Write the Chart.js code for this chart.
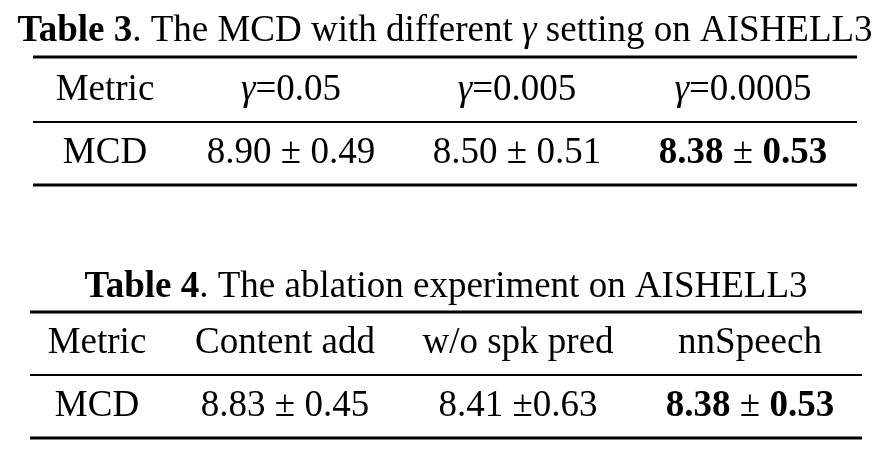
<!DOCTYPE html>
<html>
<head>
<meta charset="utf-8">
<script src="https://cdn.jsdelivr.net/npm/chart.js@4"></script>
<style>
  body { margin:0; background:#fff; }
  #wrap { width:894px; height:472px; }
</style>
</head>
<body>
<div id="wrap"><canvas id="myChart"></canvas></div>
<script>
// table 3
const t3Title = ['Table 3', '. The MCD with different ', 'γ', ' setting on AISHELL3'];
const t3Header = ['Metric', 'γ=0.05', 'γ=0.005', 'γ=0.0005'];
const t3Row = ['MCD', '8.90 ± 0.49', '8.50 ± 0.51', '8.38 ± 0.53'];
// table 4
const t4Title = ['Table 4', '. The ablation experiment on AISHELL3'];
const t4Header = ['Metric', 'Content add', 'w/o spk pred', 'nnSpeech'];
const t4Row = ['MCD', '8.83 ± 0.45', '8.41 ±0.63', '8.38 ± 0.53'];
const bestCol = 3;

const FONT = '"Liberation Serif", "DejaVu Serif", serif';
const SIZE = 37;

// layout (canvas units)
const tables = [
  { title: t3Title, header: t3Header, row: t3Row, cols: [105, 291, 517, 743],
    x0: 33, x1: 857, titleY: 31, rules: [57, 122, 185], headY: 90, rowY: 153 },
  { title: t4Title, header: t4Header, row: t4Row, cols: [97, 285, 518, 750],
    x0: 30, x1: 862, titleY: 287, rules: [312, 375, 438], headY: 343, rowY: 406 }
];

function drawRich(ctx, segs, cx, cy) {
  let total = 0;
  segs.forEach(s => { ctx.font = s.f + ' ' + SIZE + 'px ' + FONT; s.w = ctx.measureText(s.t).width; total += s.w; });
  let x = cx - total / 2;
  segs.forEach(s => { ctx.font = s.f + ' ' + SIZE + 'px ' + FONT; ctx.fillText(s.t, x, cy); x += s.w; });
}

function cellSegs(text, col, header) {
  if (header && text.startsWith('γ')) return [{t:'γ', f:'italic'}, {t:text.slice(1), f:'normal'}];
  if (!header && col === bestCol) {
    const p = text.split('±');
    return [{t:p[0], f:'bold'}, {t:'±', f:'normal'}, {t:p[1], f:'bold'}];
  }
  return [{t:text, f:'normal'}];
}

const tablePlugin = {
  id: 'tablePlugin',
  afterDraw(chart) {
    const ctx = chart.ctx, xs = chart.scales.x, ys = chart.scales.y;
    ctx.save();
    ctx.fillStyle = '#000';
    ctx.strokeStyle = '#000';
    ctx.textBaseline = 'middle';
    tables.forEach(tb => {
      const ts = tb.title.map((t, i) => ({t, f: i === 0 ? 'bold' : (t === 'γ' ? 'italic' : 'normal')}));
      drawRich(ctx, ts, xs.getPixelForValue((tb.x0 + tb.x1) / 2), ys.getPixelForValue(tb.titleY));
      tb.rules.forEach((r, i) => {
        ctx.lineWidth = i === 1 ? 1.8 : 3;
        ctx.beginPath();
        ctx.moveTo(xs.getPixelForValue(tb.x0), ys.getPixelForValue(r));
        ctx.lineTo(xs.getPixelForValue(tb.x1), ys.getPixelForValue(r));
        ctx.stroke();
      });
      tb.header.forEach((h, i) => drawRich(ctx, cellSegs(h, i, true), xs.getPixelForValue(tb.cols[i]), ys.getPixelForValue(tb.headY)));
      tb.row.forEach((v, i) => drawRich(ctx, cellSegs(v, i, false), xs.getPixelForValue(tb.cols[i]), ys.getPixelForValue(tb.rowY)));
    });
    ctx.restore();
  }
};

new Chart(document.getElementById('myChart').getContext('2d'), {
  type: 'scatter',
  data: { datasets: [{ data: [] }] },
  options: {
    responsive: true,
    maintainAspectRatio: false,
    animation: false,
    layout: { padding: 0 },
    plugins: { legend: { display: false }, tooltip: { enabled: false } },
    scales: {
      x: { type: 'linear', min: 0, max: 894, display: false },
      y: { type: 'linear', min: 0, max: 472, reverse: true, display: false }
    }
  },
  plugins: [tablePlugin]
});
</script>
</body>
</html>
